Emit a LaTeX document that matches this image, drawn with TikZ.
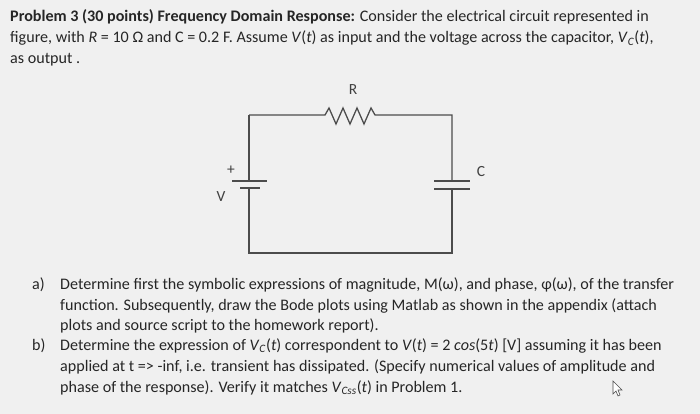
\documentclass[tikz,border=0pt]{standalone}
\usepackage{fontspec}
\setmainfont{Carlito}
\begin{document}
\begin{tikzpicture}[x=1pt,y=-1pt,
  txt/.style={anchor=base west,inner sep=0pt,font=\fontsize{16.1}{18}\selectfont,text=black!85},
  lbl/.style={inner sep=0pt,font=\fontsize{15.5}{17}\selectfont,text=black!75},
  wire/.style={line width=1.3pt,draw=black!70}]
\fill[gray!12] (0,0) rectangle (700,414);
\useasboundingbox (0,0) rectangle (700,414);
\node[txt] (l1) at (10,22) {\textbf{Problem 3 (30 points) Frequency Domain Response:} Consider the electrical circuit represented in};
\node[txt] (l2) at (10,43) {figure, with \textit{R} = 10 Ω and C = 0.2 F. Assume \textit{V}(\textit{t}) as input and the voltage across the capacitor, \textit{V}\textsubscript{\textit{C}}(\textit{t}),};
\node[txt] (l3) at (10,64) {as output .};
% circuit
\coordinate (tl) at (249,115); \coordinate (tr) at (452,115);
\coordinate (bl) at (249,253); \coordinate (br) at (452,253);
\draw[wire] (tl) -- (325,115) -- (329,108) -- (336,124) -- (343,108) -- (350,124) -- (357,108) -- (364,124) -- (371,108) -- (375,115) -- (tr)
  -- (452,181); \draw[wire] (452,189) -- (br) -- (bl) -- (249,188);
\draw[wire] (249,181) -- (tl);
\draw[wire] (232,181) -- (267,181); \draw[wire] (240,188) -- (260,188);
\draw[wire] (434,181) -- (470,181); \draw[wire] (434,189) -- (470,189);
\node[lbl] (R) at (353,90) {R};
\node[lbl] (C) at (481,172) {C};
\node[lbl] (p) at (231,170) {+};
\node[lbl] (V) at (221,197) {V};
% parts
\node[txt] (a0) at (32,289) {a)};
\node[txt] (a1) at (60,289) {Determine first the symbolic expressions of magnitude, M(ω), and phase, φ(ω), of the transfer};
\node[txt] (a2) at (60,310) {function. Subsequently, draw the Bode plots using Matlab as shown in the appendix (attach};
\node[txt] (a3) at (60,330) {plots and source script to the homework report).};
\node[txt] (b0) at (32,350) {b)};
\node[txt] (b1) at (60,350) {Determine the expression of \textit{V}\textsubscript{\textit{C}}(\textit{t}) correspondent to \textit{V}(\textit{t}) = 2 \textit{cos}(5\textit{t}) [V] assuming it has been};
\node[txt] (b2) at (60,371) {applied at t => -inf, i.e. transient has dissipated. (Specify numerical values of amplitude and};
\node[txt] (b3) at (60,392) {phase of the response). Verify it matches \textit{V}\textsubscript{\textit{Css}}(\textit{t}) in Problem 1.};
% cursor
\draw[black!70,fill=white,line width=0.6pt] (613,381) -- (613,394) -- (616,391) -- (618,396) -- (620,395) -- (618,390) -- (622,390) -- cycle;
\end{tikzpicture}
\end{document}
